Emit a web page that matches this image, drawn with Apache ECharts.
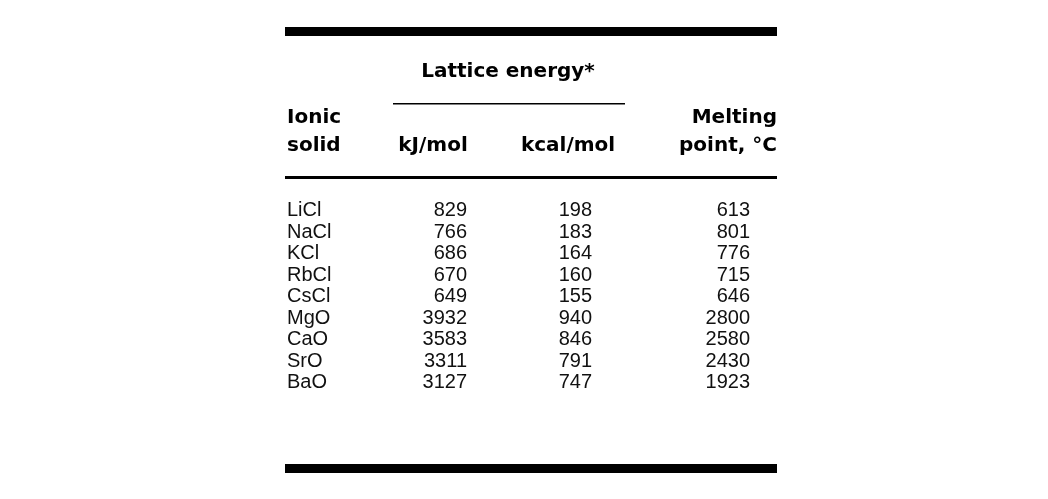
<!DOCTYPE html><html><head><meta charset="utf-8">
<script src="https://cdn.jsdelivr.net/npm/echarts@6/dist/echarts.min.js"></script>
<style>html,body{margin:0;background:#fff}#c{width:1048px;height:499px}</style></head><body><div id="c"></div>
<script>
const solids=['LiCl','NaCl','KCl','RbCl','CsCl','MgO','CaO','SrO','BaO'];
const kjPerMol=[829,766,686,670,649,3932,3583,3311,3127];
const kcalPerMol=[198,183,164,160,155,940,846,791,747];
const meltingPoint=[613,801,776,715,646,2800,2580,2430,1923];
const headers={group:'Lattice energy*',solid:['Ionic','solid'],kj:'kJ/mol',kcal:'kcal/mol',mp:['Melting','point, °C']};

const colX=[287,467,592,750];const colAlign=['left','right','right','right'];
const data=[];
solids.forEach((s,i)=>{[s,kjPerMol[i],kcalPerMol[i],meltingPoint[i]].forEach((v,c)=>data.push([c,i,String(v)]));});
const bodyFont='20px "Liberation Sans", sans-serif';
const headFont='bold 20px "DejaVu Sans", sans-serif';
const chart=echarts.init(document.getElementById('c'));
chart.setOption({
 animation:false,
 grid:{left:0,right:0,top:200,height:193.5},
 xAxis:{type:'value',min:0,max:1048,show:false},
 yAxis:{type:'category',data:solids,inverse:true,show:false},
 series:[{type:'custom',data:data,renderItem:(p,api)=>{
   const c=api.value(0),r=api.value(1);const pt=api.coord([0,r]);
   return {type:'text',style:{text:data[p.dataIndex][2],x:colX[c],y:pt[1],align:colAlign[c],verticalAlign:'middle',font:bodyFont,fill:'#111'}};
 }}],
 graphic:[
  {type:'rect',shape:{x:285,y:27,width:492,height:9},style:{fill:'#000'}},
  {type:'rect',shape:{x:285,y:464,width:492,height:9},style:{fill:'#000'}},
  {type:'rect',shape:{x:393,y:103,width:232,height:1.5},style:{fill:'#000'}},
  {type:'rect',shape:{x:285,y:176,width:492,height:3},style:{fill:'#000'}},
  {type:'text',style:{text:headers.group,x:508,y:72,align:'center',verticalAlign:'middle',font:headFont,fill:'#000'}},
  {type:'text',style:{text:headers.solid[0],x:287,y:118,verticalAlign:'middle',font:headFont,fill:'#000'}},
  {type:'text',style:{text:headers.solid[1],x:287,y:146,verticalAlign:'middle',font:headFont,fill:'#000'}},
  {type:'text',style:{text:headers.kj,x:433,y:146,align:'center',verticalAlign:'middle',font:headFont,fill:'#000'}},
  {type:'text',style:{text:headers.kcal,x:568,y:146,align:'center',verticalAlign:'middle',font:headFont,fill:'#000'}},
  {type:'text',style:{text:headers.mp[0],x:777,y:118,align:'right',verticalAlign:'middle',font:headFont,fill:'#000'}},
  {type:'text',style:{text:headers.mp[1],x:777,y:146,align:'right',verticalAlign:'middle',font:headFont,fill:'#000'}}
 ]
});
</script></body></html>
